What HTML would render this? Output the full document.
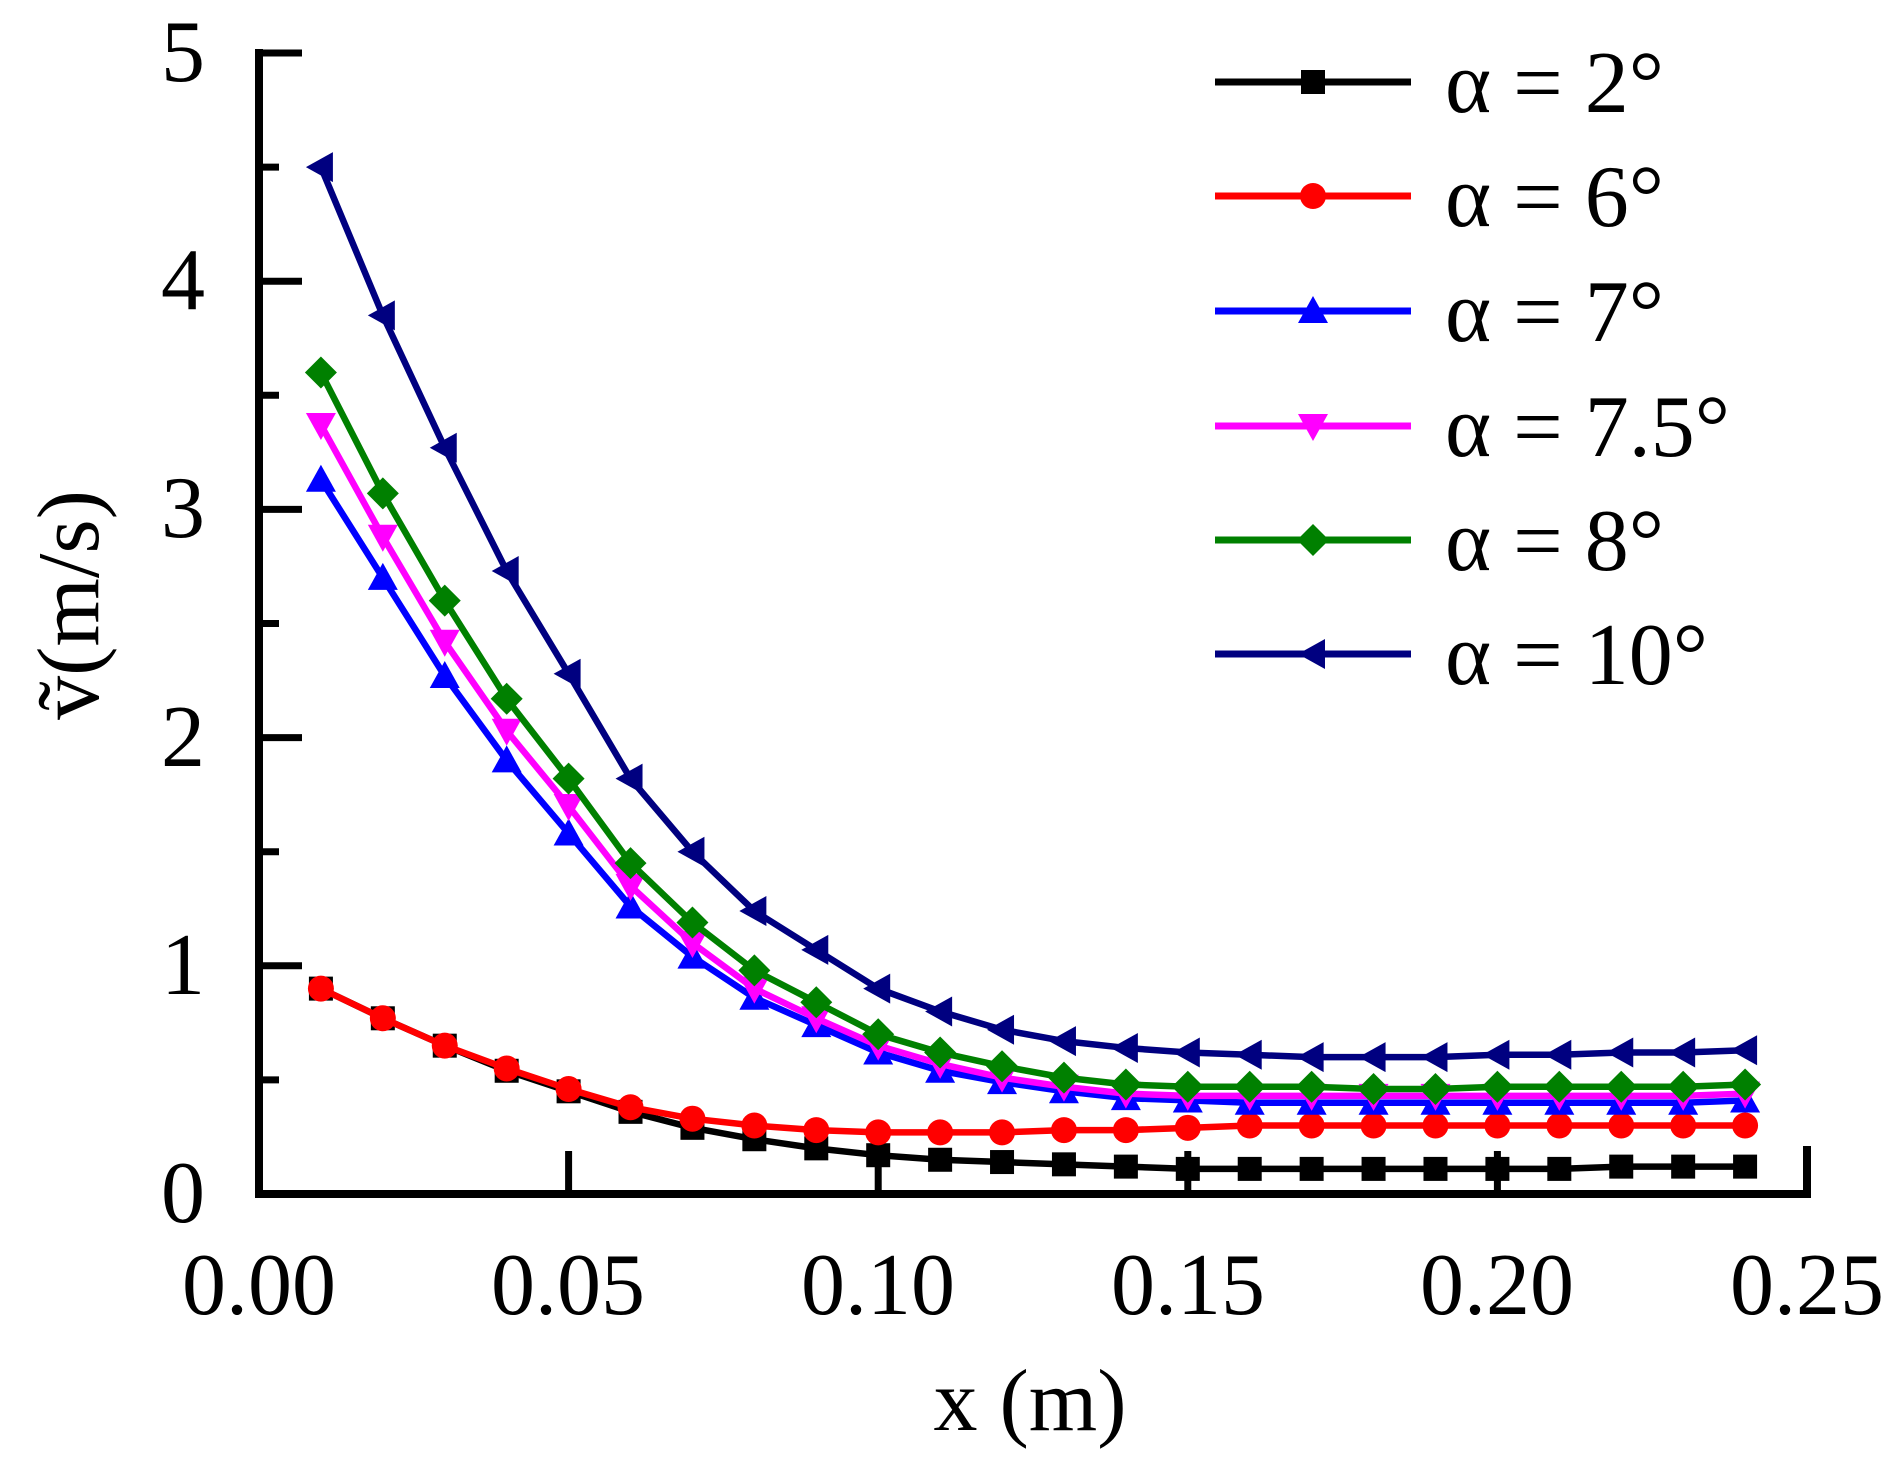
<!DOCTYPE html>
<html><head><meta charset="utf-8"><style>
html,body{margin:0;padding:0;background:#fff;}
svg{display:block;}
text{font-family:"Liberation Serif","Times New Roman",serif;fill:#000;}
</style></head><body>
<svg id="s" width="1899" height="1467" viewBox="0 0 1899 1467" xmlns="http://www.w3.org/2000/svg" font-family="'Liberation Serif','Times New Roman',serif">
<g font-size="88">
<text x="1030" y="1430" text-anchor="middle">x (m)</text>
<text transform="translate(98,605) rotate(-90)" text-anchor="middle">ṽ(m/s)</text>
<text x="259" y="1314" text-anchor="middle">0.00</text>
<text x="568" y="1314" text-anchor="middle">0.05</text>
<text x="878" y="1314" text-anchor="middle">0.10</text>
<text x="1188" y="1314" text-anchor="middle">0.15</text>
<text x="1497" y="1314" text-anchor="middle">0.20</text>
<text x="1807" y="1314" text-anchor="middle">0.25</text>
<text x="205" y="1222" text-anchor="end">0</text>
<text x="205" y="994" text-anchor="end">1</text>
<text x="205" y="766" text-anchor="end">2</text>
<text x="205" y="537" text-anchor="end">3</text>
<text x="205" y="309" text-anchor="end">4</text>
<text x="205" y="81" text-anchor="end">5</text>
</g>
<g id="plot"></g>
<g id="axes" stroke="#000" stroke-width="8" fill="none" stroke-linecap="square">
<path d="M259,53 V1194 H1807 V1150"/>
</g>
</svg>
<script>
var X0=259,XS=6192,Y0=1194,YS=228.2;
var d={
"#000080":[4.5,3.85,3.27,2.73,2.28,1.82,1.5,1.24,1.07,0.9,0.8,0.72,0.67,0.64,0.62,0.61,0.6,0.6,0.6,0.61,0.61,0.62,0.62,0.63],
"#008000":[3.6,3.07,2.6,2.17,1.82,1.45,1.19,0.98,0.84,0.7,0.62,0.56,0.51,0.48,0.47,0.47,0.47,0.46,0.46,0.47,0.47,0.47,0.47,0.48],
"#ff00ff":[3.37,2.88,2.42,2.03,1.7,1.35,1.1,0.9,0.77,0.65,0.57,0.51,0.47,0.44,0.43,0.43,0.43,0.43,0.43,0.43,0.43,0.43,0.43,0.44],
"#0000ff":[3.13,2.7,2.27,1.9,1.58,1.26,1.04,0.86,0.74,0.62,0.54,0.49,0.45,0.42,0.41,0.4,0.4,0.4,0.4,0.4,0.4,0.4,0.4,0.41],
"#ff0000":[0.9,0.77,0.65,0.55,0.46,0.38,0.33,0.3,0.28,0.27,0.27,0.27,0.28,0.28,0.29,0.3,0.3,0.3,0.3,0.3,0.3,0.3,0.3,0.3],
"#000000":[0.9,0.77,0.65,0.54,0.45,0.36,0.29,0.24,0.2,0.17,0.15,0.14,0.13,0.12,0.11,0.11,0.11,0.11,0.11,0.11,0.11,0.12,0.12,0.12]};
var mk={"#000080":"tl","#008000":"dia","#ff00ff":"td","#0000ff":"tu","#ff0000":"circ","#000000":"sq"};
function marker(t,x,y,c){var r=15;
 if(t=="sq")return '<rect x="'+(x-12)+'" y="'+(y-12)+'" width="24" height="24" fill="'+c+'"/>';
 if(t=="circ")return '<circle cx="'+x+'" cy="'+y+'" r="13" fill="'+c+'"/>';
 var p;
 if(t=="tu")p=[[x,y-r],[x+r,y+r*0.8],[x-r,y+r*0.8]];
 if(t=="td")p=[[x,y+r],[x+r,y-r*0.8],[x-r,y-r*0.8]];
 if(t=="tl")p=[[x-r,y],[x+r*0.8,y-r],[x+r*0.8,y+r]];
 if(t=="dia")p=[[x,y-16],[x+16,y],[x,y+16],[x-16,y]];
 return '<polygon points="'+p.map(function(q){return q.join(",")}).join(" ")+'" fill="'+c+'"/>';}
var h='',order=["#000000","#ff0000","#0000ff","#ff00ff","#008000","#000080"];
order.forEach(function(c){var pts=d[c].map(function(v,i){return [X0+(i+1)*0.01*XS,Y0-v*YS]});
 h+='<polyline points="'+pts.map(function(q){return q.join(",")}).join(" ")+'" fill="none" stroke="'+c+'" stroke-width="6.5" stroke-linejoin="round"/>';
 pts.forEach(function(q){h+=marker(mk[c],q[0],q[1],c)});});
var tk='';
for(var i=0;i<=10;i++){var y=Y0-i*0.5*YS;tk+='<line x1="259" y1="'+y+'" x2="'+(259+(i%2?20:43))+'" y2="'+y+'" stroke="#000" stroke-width="7"/>';}
for(var j=1;j<=4;j++){var x=X0+j*0.05*XS;tk+='<line x1="'+x+'" y1="1194" x2="'+x+'" y2="1151" stroke="#000" stroke-width="7"/>';}
h+=tk;
var labs=["α = 2°","α = 6°","α = 7°","α = 7.5°","α = 8°","α = 10°"],ly=[82,196,311,426,540,654];
order.forEach(function(c,i){var y=ly[i];
 h+='<line x1="1215" y1="'+y+'" x2="1411" y2="'+y+'" stroke="'+c+'" stroke-width="7"/>'+marker(mk[c],1313,y,c);
 h+='<text x="1445" y="'+(y+30)+'" font-size="88">'+labs[i]+'</text>';});
document.getElementById("plot").innerHTML=h;
</script>
</body></html>
